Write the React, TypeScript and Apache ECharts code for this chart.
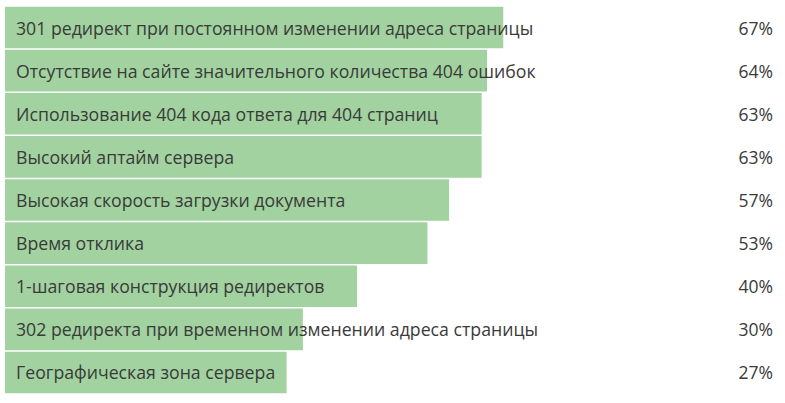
import React, { useEffect, useRef } from 'react';
import * as echarts from 'echarts';

const categories = [
  '301 редирект при постоянном изменении адреса страницы',
  'Отсутствие на сайте значительного количества 404 ошибок',
  'Использование 404 кода ответа для 404 страниц',
  'Высокий аптайм сервера',
  'Высокая скорость загрузки документа',
  'Время отклика',
  '1-шаговая конструкция редиректов',
  '302 редиректа при временном изменении адреса страницы',
  'Географическая зона сервера',
];
const values = [67, 64, 63, 63, 57, 53, 40, 30, 27];
const percentLabels = ['67%', '64%', '63%', '63%', '57%', '53%', '40%', '30%', '27%'];

const AXIS_MIN = -25;
const AXIS_MAX = 100;
const FONT = '"Open Sans", sans-serif';

const App: React.FC = () => {
  const chartRef = useRef<HTMLDivElement>(null);

  useEffect(() => {
    if (!chartRef.current) return;
    const chart = echarts.init(chartRef.current, null, { renderer: 'svg' });
    chart.setOption({
      animation: false,
      textStyle: { fontFamily: FONT },
      grid: { left: 5, top: 6, width: 677, height: 388 },
      xAxis: { type: 'value', min: AXIS_MIN, max: AXIS_MAX, show: false },
      yAxis: [
        { type: 'category', data: categories, inverse: true, show: false },
        {
          type: 'category',
          data: percentLabels,
          inverse: true,
          position: 'right',
          axisLine: { show: false },
          axisTick: { show: false },
          axisLabel: { align: 'right', margin: 91, fontSize: 17.5, color: '#3a3a3a', fontFamily: FONT },
        },
      ],
      series: [
        {
          type: 'custom',
          data: values.map((v, i) => [v, i]),
          encode: { x: 0, y: 1 },
          renderItem: (params: any, api: any) => {
            const idx = api.value(1);
            const start = api.coord([AXIS_MIN, idx]);
            const end = api.coord([api.value(0), idx]);
            const band = api.size([0, 1])[1];
            const h = band * 0.965;
            return {
              type: 'group',
              children: [
                {
                  type: 'rect',
                  shape: { x: start[0], y: start[1] - h / 2, width: end[0] - start[0], height: h },
                  style: { fill: '#a1d29f' },
                },
                {
                  type: 'text',
                  x: start[0] + 11,
                  y: start[1],
                  style: {
                    text: categories[params.dataIndex],
                    fill: '#3a3a3a',
                    font: `17.7px ${FONT}`,
                    verticalAlign: 'middle',
                    align: 'left',
                  },
                },
              ],
            };
          },
        },
      ],
    });
    return () => {
      chart.dispose();
    };
  }, []);

  return (
    <div
      ref={chartRef}
      style={{ position: 'fixed', left: 0, top: 0, width: '785px', height: '403px', background: '#fff' }}
    />
  );
};

export default App;
